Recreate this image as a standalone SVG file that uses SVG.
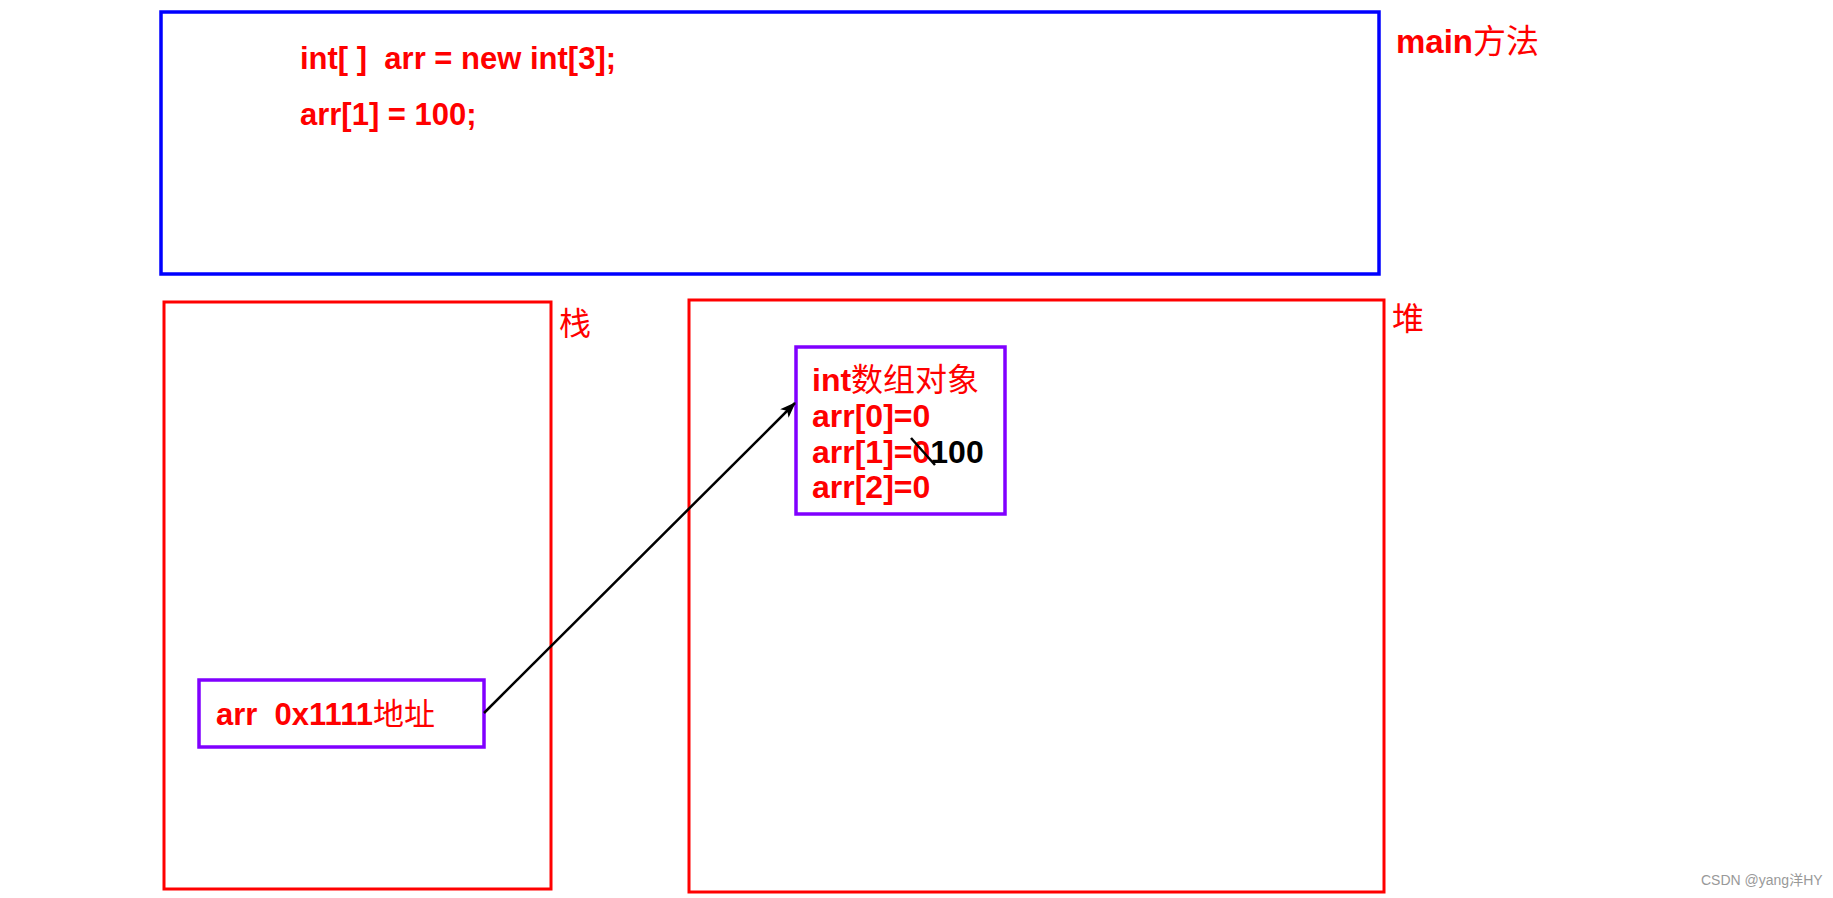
<svg xmlns="http://www.w3.org/2000/svg" width="1833" height="898" viewBox="0 0 1833 898">
<style>
.t{font-family:"Liberation Sans","Noto Sans CJK SC",sans-serif;fill:#ff0000;white-space:pre}
.b{font-weight:bold}
.c{font-weight:normal}
.red{fill:#fff;stroke:#ff0000;stroke-width:3}
.pur{fill:#fff;stroke:#8000ff;stroke-width:3.5}
</style>
<defs>
<marker id="ah" markerWidth="16" markerHeight="12" refX="15" refY="6" orient="auto" markerUnits="userSpaceOnUse"><path d="M0,0 L16,6 L0,12 L4,6 z" fill="#000"/></marker>
</defs>
<rect width="1833" height="898" fill="#fff"/>
<g id="main">
<rect x="161" y="12" width="1218" height="262" fill="#fff" stroke="#0000ff" stroke-width="3.5"/>
<text class="t b" x="300" y="69" font-size="31">int[&#160;]&#160;&#160;arr = new int[3];</text>
<text class="t b" x="300" y="125" font-size="31">arr[1] = 100;</text>
<text class="t" x="1396" y="53" font-size="33"><tspan class="b">main</tspan><tspan class="c">方法</tspan></text>
</g>
<g id="stack">
<rect class="red" x="164" y="302" width="387" height="587"/>
<text class="t" x="559" y="335" font-size="32">栈</text>
</g>
<g id="heap">
<rect class="red" x="689" y="300" width="695" height="592"/>
<text class="t" x="1392" y="330" font-size="32">堆</text>
</g>
<g id="obj">
<rect class="pur" x="796" y="347" width="209" height="167"/>
<text class="t b" x="812" y="391" font-size="32">int<tspan class="c">数组对象</tspan></text>
<text class="t b" x="812" y="427" font-size="32">arr[0]=0</text>
<text class="t b" x="812" y="463" font-size="32">arr[1]=0<tspan fill="#000">100</tspan></text>
<text class="t b" x="812" y="498" font-size="32">arr[2]=0</text>
<line x1="911" y1="438" x2="935" y2="465" stroke="#000" stroke-width="2.5"/>
</g>
<g id="ref">
<rect class="pur" x="199" y="680" width="285" height="67"/>
<text class="t b" x="216" y="725" font-size="31">arr&#160;&#160;0x1111<tspan class="c">地址</tspan></text>
</g>
<g id="connectors">
<line x1="484" y1="713" x2="795" y2="403" stroke="#000" stroke-width="2.5" marker-end="url(#ah)"/>
</g>
<text x="1701" y="885" font-size="14" font-family="Liberation Sans,Noto Sans CJK SC,sans-serif" fill="#999">CSDN @yang洋HY</text>
</svg>
